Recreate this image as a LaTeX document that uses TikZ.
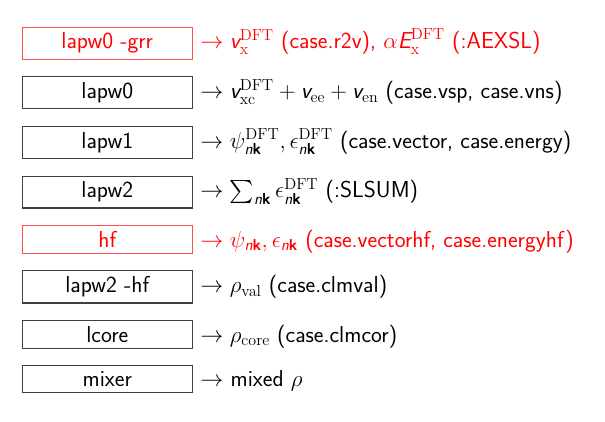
\documentclass[tikz,border=0pt]{standalone}
\usepackage{amsmath}
\usetikzlibrary{positioning}
\newcommand{\si}[1]{\text{\sffamily\itshape #1}}
\newcommand{\bk}{\text{\sffamily\bfseries k}}
\newcommand{\nk}{\si{n}\bk}
\newcommand{\dft}{\mathrm{DFT}}

\begin{document}
\begin{tikzpicture}[
    font=\sffamily\fontsize{17.28}{21}\selectfont,
    prog/.style={draw=black!75,line width=0.8pt,minimum width=127.5pt,inner xsep=4pt,inner ysep=4.3pt},
    res/.style={inner sep=0pt},
    hot/.style={draw=red!70,text=red}
  ]
  \useasboundingbox (0,0) rectangle (453.75pt,-315.75pt);
  % programs of one cycle
  \node[prog,hot,anchor=north west] (grr) at (16.3pt,-20pt) {lapw0 -grr};
  \node[prog,below=12.4pt of grr] (lapw0) {lapw0};
  \node[prog,below=12.4pt of lapw0] (lapw1) {lapw1};
  \node[prog,below=12.4pt of lapw1] (lapw2) {lapw2};
  \node[prog,hot,below=12.4pt of lapw2] (hf) {hf};
  \node[prog,below=12.4pt of hf] (lapw2hf) {lapw2 -hf};
  \node[prog,below=12.4pt of lapw2hf] (lcore) {lcore};
  \node[prog,below=12.4pt of lcore] (mixer) {mixer};
  % what each one gives
  \node[res,red,right=5.5pt of grr.base east,anchor=base west] (grrres)
    {$\to \si{v}_{\mathrm{x}}^{\dft}$ (case.r2v), $\alpha \si{E}_{\mathrm{x}}^{\dft}$ (:AEXSL)};
  \node[res,right=5.5pt of lapw0.base east,anchor=base west] (lapw0res)
    {$\to \si{v}_{\mathrm{xc}}^{\dft}+\si{v}_{\mathrm{ee}}+\si{v}_{\mathrm{en}}$ (case.vsp, case.vns)};
  \node[res,right=5.5pt of lapw1.base east,anchor=base west] (lapw1res)
    {$\to \psi_{\nk}^{\dft},\epsilon_{\nk}^{\dft}$ (case.vector, case.energy)};
  \node[res,right=5.5pt of lapw2.base east,anchor=base west] (lapw2res)
    {$\to \sum_{\nk}\epsilon_{\nk}^{\dft}$ (:SLSUM)};
  \node[res,red,right=5.5pt of hf.base east,anchor=base west] (hfres)
    {$\to \psi_{\nk},\epsilon_{\nk}$ (case.vectorhf, case.energyhf)};
  \node[res,right=5.5pt of lapw2hf.base east,anchor=base west] (lapw2hfres)
    {$\to \rho_{\mathrm{val}}$ (case.clmval)};
  \node[res,right=5.5pt of lcore.base east,anchor=base west] (lcoreres)
    {$\to \rho_{\mathrm{core}}$ (case.clmcor)};
  \node[res,right=5.5pt of mixer.base east,anchor=base west] (mixerres)
    {$\to$ mixed $\rho$};
\end{tikzpicture}
\end{document}
